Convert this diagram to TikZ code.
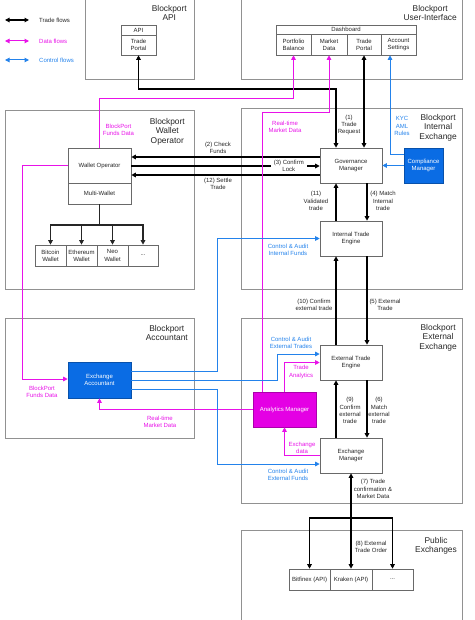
\documentclass[tikz,border=0pt]{standalone}
\usepackage{fontspec}
\setmainfont{Liberation Sans}
\usetikzlibrary{arrows.meta}
\definecolor{fpink}{RGB}{232,18,232}
\definecolor{fblue}{RGB}{35,130,235}
\definecolor{bblue}{RGB}{10,108,228}
\definecolor{bpink}{RGB}{228,0,228}
\definecolor{rgray}{RGB}{145,145,145}
\definecolor{bgray}{RGB}{105,105,105}
\begin{document}
\begin{tikzpicture}[x=1pt,y=-1pt,
 >={Triangle[length=4.5pt,width=4.5pt]},
 region/.style={draw=rgray,line width=0.8pt},
 regtitle/.style={font=\fontsize{8.4}{9.7}\selectfont,align=center,inner sep=0pt,anchor=north east,text=black!85},
 cell/.style={draw=bgray,fill=white,line width=0.6pt,font=\fontsize{6}{7.2}\selectfont,align=center,inner sep=0pt,text=black!85},
 bluebox/.style={cell,fill=bblue,draw=bblue!75!black,text=white},
 pinkbox/.style={cell,fill=bpink,draw=bpink!75!black,text=white},
 lbl/.style={font=\fontsize{6}{7.2}\selectfont,align=center,inner sep=0pt,text=black!85},
 dlbl/.style={lbl,text=fpink},
 clbl/.style={lbl,text=fblue},
 trade/.style={draw=black,line width=1.25pt,->},
 trade2/.style={draw=black,line width=1.25pt,<->},
 wtrade/.style={draw=black!85,line width=1.6pt},
 dataflow/.style={draw=fpink,line width=1pt,->},
 ctrl/.style={draw=fblue,line width=1pt,->},
]
\useasboundingbox (0,0) rectangle (474,620);

% ---------- regions ----------
\draw[region] (85,-2) rectangle (194,79);
\draw[region] (241,-2) rectangle (462,79);
\draw[region] (5,110) rectangle (194,289);
\draw[region] (241,108) rectangle (462,289);
\draw[region] (5,318) rectangle (194,438);
\draw[region] (241,318) rectangle (462,503);
\draw[region] (241,530) rectangle (462,630);

\node[regtitle] (tApi) at (187,5) {Blockport\\API};
\node[regtitle] (tUI) at (457,5) {Blockport\\User-Interface};
\node[regtitle] (tWal) at (185,118) {Blockport\\Wallet\\Operator};
\node[regtitle] (tInt) at (457,114) {Blockport\\Internal\\Exchange};
\node[regtitle] (tAcc) at (188,325) {Blockport\\Accountant};
\node[regtitle] (tExt) at (457,324) {Blockport\\External\\Exchange};
\node[regtitle] (tPub) at (457,537) {Public\\Exchanges};

% ---------- legend ----------
\coordinate (lg1a) at (5,20); \coordinate (lg1b) at (29,20);
\coordinate (lg2a) at (5,41); \coordinate (lg2b) at (29,41);
\coordinate (lg3a) at (5,60); \coordinate (lg3b) at (29,60);
\draw[trade2] (lg1a) -- (lg1b);
\draw[dataflow,<->] (lg2a) -- (lg2b);
\draw[ctrl,<->] (lg3a) -- (lg3b);
\node[lbl,anchor=west] (lgt1) at (39,20) {Trade flows};
\node[lbl,anchor=west,text=fpink] (lgt2) at (39,41) {Data flows};
\node[lbl,anchor=west,text=fblue] (lgt3) at (39,60) {Control flows};

% ---------- boxes ----------
\node[cell,minimum width=35pt,minimum height=10pt] (apiH) at (138.5,30) {API};
\node[cell,minimum width=35pt,minimum height=20pt] (apiT) at (138.5,45) {Trade\\Portal};

\node[cell,minimum width=140pt,minimum height=9pt] (dash) at (346,29.5) {Dashboard};
\node[cell,minimum width=35pt,minimum height=21pt] (dPB) at (293.5,44.5) {Portfolio\\Balance};
\node[cell,minimum width=36pt,minimum height=21pt] (dMD) at (329,44.5) {Market\\Data};
\node[cell,minimum width=34pt,minimum height=21pt] (dTP) at (364,44.5) {Trade\\Portal};
\node[cell,minimum width=35pt,minimum height=21pt] (dAS) at (398.5,44.5) {Account\\Settings};

\node[cell,minimum width=63pt,minimum height=35pt] (wop) at (99.5,165.5) {Wallet Operator};
\node[cell,minimum width=63pt,minimum height=21pt] (mw) at (99.5,193.5) {Multi-Wallet};

\node[cell,minimum width=31pt,minimum height=21pt] (btc) at (50.5,255.5) {Bitcoin\\Wallet};
\node[cell,minimum width=31pt,minimum height=21pt] (eth) at (81.5,255.5) {Ethereum\\Wallet};
\node[cell,minimum width=31pt,minimum height=21pt] (neo) at (112.5,255.5) {Neo\\Wallet};
\node[cell,minimum width=30pt,minimum height=21pt] (wdots) at (143,255.5) {...};

\node[cell,minimum width=62pt,minimum height=35pt] (gov) at (351,165.5) {Governance\\Manager};
\node[bluebox,minimum width=39pt,minimum height=35pt] (comp) at (423.5,165.5) {Compliance\\Manager};
\node[cell,minimum width=62pt,minimum height=35pt] (ite) at (351,238.5) {Internal Trade\\Engine};
\node[cell,minimum width=62pt,minimum height=35pt] (ete) at (351,362.5) {External Trade\\Engine};
\node[cell,minimum width=62pt,minimum height=35pt] (em) at (351,455.5) {Exchange\\Manager};
\node[pinkbox,minimum width=63pt,minimum height=35pt] (ana) at (284.5,409.5) {Analytics Manager};
\node[bluebox,minimum width=63pt,minimum height=36pt] (ea) at (99.5,380) {Exchange\\Accountant};

\node[cell,minimum width=41pt,minimum height=21pt] (bfx) at (309.5,579.5) {Bitfinex (API)};
\node[cell,minimum width=42pt,minimum height=21pt] (krk) at (351,579.5) {Kraken (API)};
\node[cell,minimum width=41pt,minimum height=21pt] (edots) at (392.5,579.5) {...};

% ---------- helper coordinates ----------
\coordinate (xL) at (336,0);
\coordinate (xR) at (367,0);

% ---------- trade flows ----------
\coordinate (b1) at (336,89);
\draw[trade2] (apiT.south) |- (b1) -- (gov.north -| b1);
\draw[trade2] (dTP.south) -- (gov.north -| dTP.south);

\coordinate (yA) at (0,157);
\coordinate (yB) at (0,166);
\coordinate (yC) at (0,175);
\draw[trade] (gov.west |- yA) -- (wop.east |- yA);
\draw[trade] (wop.east |- yB) -- (gov.west |- yB)
  node[lbl,fill=white,inner xsep=3pt,inner ysep=1pt,pos=0.836] (l3) {(3) Confirm\\Lock};
\draw[trade] (gov.west |- yC) -- (wop.east |- yC);

\draw[trade] (ite.north -| xL) -- (gov.south -| xL);
\draw[trade] (gov.south -| xR) -- (ite.north -| xR);
\draw[trade] (ete.north -| xL) -- (ite.south -| xL);
\draw[trade] (ite.south -| xR) -- (ete.north -| xR);
\draw[trade] (em.north -| xL) -- (ete.south -| xL);
\draw[trade] (ete.south -| xR) -- (em.north -| xR);

\coordinate (jn) at (351,518);
\draw[trade2] (em.south) -- (krk.north);
\draw[trade] (jn) -| (bfx.north);
\draw[trade] (jn) -| (edots.north);

\coordinate (wj) at (99.5,225);
\draw[wtrade] (mw.south) -- (wj);
\draw[wtrade,->] (wj) -| (btc.north);
\draw[wtrade,->] (wj) -| (eth.north);
\draw[wtrade,->] (wj) -| (neo.north);
\draw[wtrade,->] (wj) -| (wdots.north);

% ---------- data flows ----------
\coordinate (p1) at (293.5,99);
\draw[dataflow] (wop.north) |- (p1) -- (dPB.south);
\coordinate (p2a) at (262,113);
\coordinate (p2b) at (329,113);
\draw[dataflow] (ana.north -| p2a) -- (p2a) -- (p2b) -- (dMD.south);
\coordinate (p3) at (22,379);
\draw[dataflow] (wop.west) -| (p3) -- (ea.west |- p3);
\draw[dataflow] (ana.west) -| (ea.south);
\draw[dataflow] (ana.north) |- (ete.west);
\draw[dataflow] (em.west) -| (ana.south);

% ---------- control flows ----------
\coordinate (k1) at (390,155);
\draw[ctrl] (comp.west |- k1) -- (k1) -- (k1 |- dAS.south);
\draw[ctrl] (comp.west) -- (gov.east);
\coordinate (k3) at (217,371);
\draw[ctrl] (ea.east |- k3) -- (k3) |- (ite.west);
\coordinate (k4) at (277,380);
\coordinate (k4y) at (0,354);
\draw[ctrl] (ea.east) -- (k4) |- (ete.west |- k4y);
\coordinate (k5) at (217,389);
\coordinate (k5y) at (0,464);
\draw[ctrl] (ea.east |- k5) -- (k5) |- (em.west |- k5y);

% ---------- labels ----------
\node[lbl] (l1) at (349,125) {(1)\\Trade\\Request};
\node[lbl] (l2) at (218,148) {(2) Check\\Funds};
\node[lbl] (l12) at (218,183.5) {(12) Settle\\Trade};
\node[lbl] (l11) at (316,201) {(11)\\Validated\\trade};
\node[lbl] (l4) at (383,201) {(4) Match\\Internal\\trade};
\node[lbl] (l10) at (314,305) {(10) Confirm\\external trade};
\node[lbl] (l5) at (385,305) {(5) External\\Trade};
\node[lbl] (l9) at (350,410.5) {(9)\\Confirm\\external\\trade};
\node[lbl] (l6) at (379,410.5) {(6)\\Match\\external\\trade};
\node[lbl] (l7) at (373,489) {(7) Trade\\confirmation \&\\Market Data};
\node[lbl] (l8) at (371,547) {(8) External\\Trade Order};

\node[dlbl] (d1) at (118.5,129.5) {BlockPort\\Funds Data};
\node[dlbl] (d2) at (285,126.5) {Real-time\\Market Data};
\node[dlbl] (d3) at (42,392) {BlockPort\\Funds Data};
\node[dlbl] (d4) at (160,421.5) {Real-time\\Market Data};
\node[dlbl] (d5) at (301,372) {Trade\\Analytics};
\node[dlbl] (d6) at (302,447.5) {Exchange\\data};

\node[clbl] (c1) at (402,126) {KYC\\AML\\Rules};
\node[clbl] (c3) at (288,250) {Control \& Audit\\Internal Funds};
\node[clbl] (c4) at (291,342.5) {Control \& Audit\\External Trades};
\node[clbl] (c5) at (288,475) {Control \& Audit\\External Funds};
\end{tikzpicture}
\end{document}
